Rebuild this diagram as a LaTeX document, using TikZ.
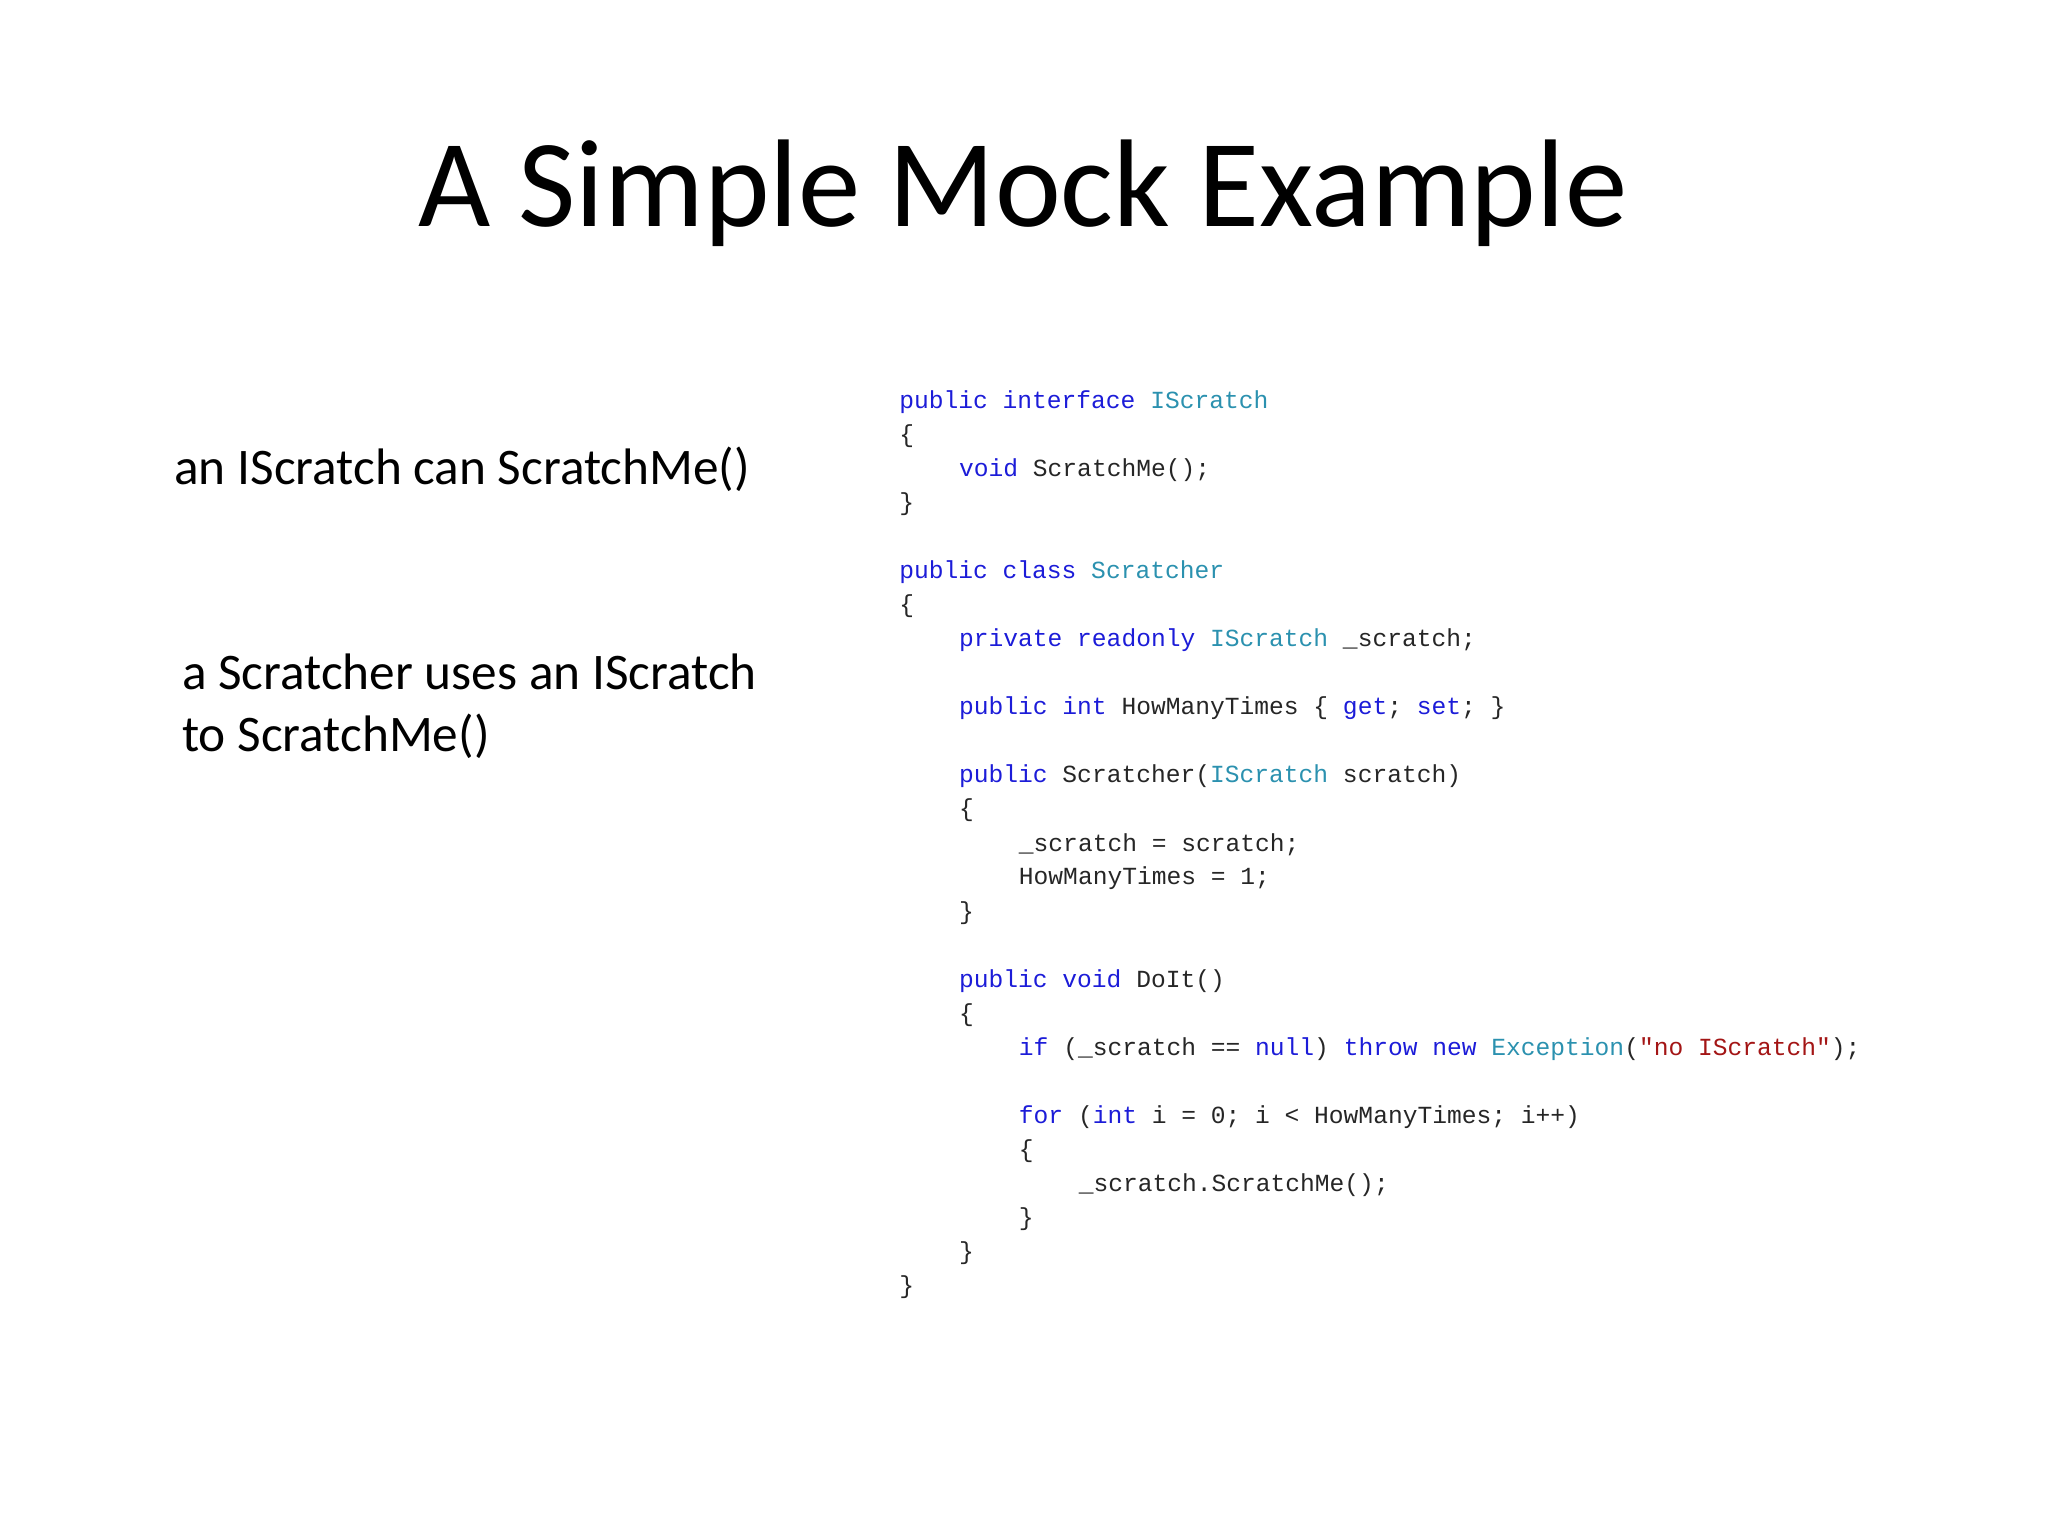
\documentclass[tikz,border=0pt]{standalone}
\usepackage{fontspec}
\setmainfont{Carlito}
\setmonofont{Liberation Mono}
\definecolor{kwc}{HTML}{1C1CD8}
\definecolor{tyc}{HTML}{2B91AF}
\definecolor{stc}{HTML}{A31515}
\newcommand{\kw}[1]{\textcolor{kwc}{#1}}
\newcommand{\ty}[1]{\textcolor{tyc}{#1}}
\newcommand{\stx}[1]{\textcolor{stc}{#1}}
\tikzset{codeline/.style={anchor=west,inner sep=0pt,font=\fontsize{7.0}{8}\ttfamily,text=black!85},
 bodytext/.style={anchor=base west,inner sep=0pt,font=\fontsize{14.6}{18}\selectfont}}
\begin{document}
\begin{tikzpicture}[x=0.01306cm,y=-0.01306cm]
\useasboundingbox (0,0) rectangle (1568,1176);
\node[inner sep=0pt,font=\fontsize{35.5}{42}\selectfont] (title) at (783,148) {A Simple Mock Example};
\node[bodytext] (t1) at (133,371) {an IScratch can ScratchMe()};
\node[bodytext] (t2) at (139,528) {a Scratcher uses an IScratch};
\node[bodytext] (t3) at (139,575) {to ScratchMe()};
\def\ind{45.8}
\newcommand{\cl}[3]{\node[codeline] (c#1) at ({688+#2*\ind},{308+26.05*#1}) {#3};}
\cl{0}{0}{\kw{public interface} \ty{IScratch}}
\cl{1}{0}{\{}
\cl{2}{1}{\kw{void} ScratchMe();}
\cl{3}{0}{\}}
\cl{5}{0}{\kw{public class} \ty{Scratcher}}
\cl{6}{0}{\{}
\cl{7}{1}{\kw{private readonly} \ty{IScratch} \_scratch;}
\cl{9}{1}{\kw{public int} HowManyTimes \{ \kw{get}; \kw{set}; \}}
\cl{11}{1}{\kw{public} Scratcher(\ty{IScratch} scratch)}
\cl{12}{1}{\{}
\cl{13}{2}{\_scratch = scratch;}
\cl{14}{2}{HowManyTimes = 1;}
\cl{15}{1}{\}}
\cl{17}{1}{\kw{public void} DoIt()}
\cl{18}{1}{\{}
\cl{19}{2}{\kw{if} (\_scratch == \kw{null}) \kw{throw new} \ty{Exception}(\stx{"no IScratch"});}
\cl{21}{2}{\kw{for} (\kw{int} i = 0; i < HowManyTimes; i++)}
\cl{22}{2}{\{}
\cl{23}{3}{\_scratch.ScratchMe();}
\cl{24}{2}{\}}
\cl{25}{1}{\}}
\cl{26}{0}{\}}
\end{tikzpicture}
\end{document}
